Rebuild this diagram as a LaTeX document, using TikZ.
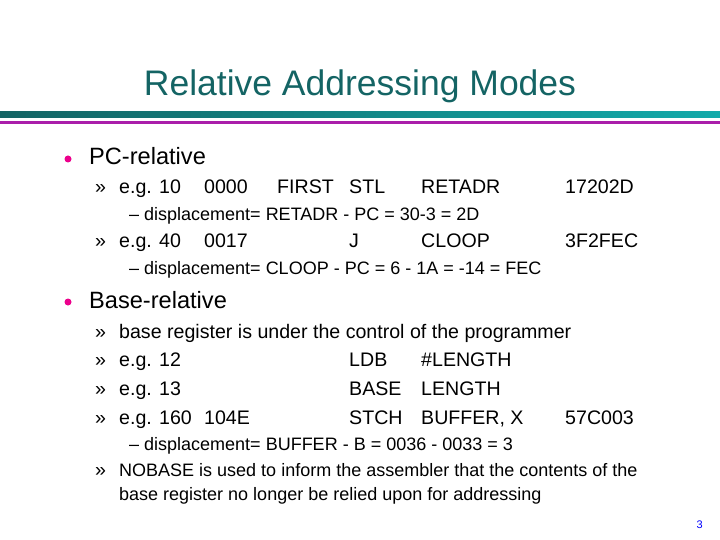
\documentclass[tikz,border=0pt]{standalone}
\usepackage{fontspec}
\setmainfont{Liberation Sans}
\begin{document}
\begin{tikzpicture}[x=1bp,y=-1bp,
  t/.style={anchor=base west,inner sep=0pt,font=\fontsize{19.6bp}{21bp}\selectfont},
  d/.style={anchor=base west,inner sep=0pt,font=\fontsize{18bp}{20bp}\selectfont},
  h/.style={anchor=base west,inner sep=0pt,font=\fontsize{23.6bp}{25bp}\selectfont}]
\useasboundingbox (0,0) rectangle (720,540);
\definecolor{teal1}{RGB}{20,100,100}
\definecolor{teal2}{RGB}{20,170,170}
\definecolor{mag}{RGB}{170,30,170}
\node[anchor=base,inner sep=0pt,text=teal1,font=\fontsize{35.5bp}{37bp}\selectfont] (title) at (360,96) {Relative Addressing Modes};
\shade[left color=teal1,right color=teal2] (0,112) rectangle (720,118);
\fill[mag] (0,121) rectangle (720,124);
\fill[magenta] (68,159) circle (3.5) node (b1) {};
\node[h] (pc) at (89,165) {PC-relative};
\node[t] (r1a) at (95,194) {»};
\node[t] (r1b) at (119,194) {e.g. 10};
\node[t] (r1c) at (204,194) {0000};
\node[t] (r1d) at (277,194) {FIRST};
\node[t] (r1e) at (349,194) {STL};
\node[t] (r1f) at (421,194) {RETADR};
\node[t] (r1g) at (565,194) {17202D};
\node[d] (d1) at (129,221) {– displacement= RETADR - PC = 30-3 = 2D};
\node[t] (r2a) at (95,248) {»};
\node[t] (r2b) at (119,248) {e.g. 40};
\node[t] (r2c) at (204,248) {0017};
\node[t] (r2e) at (349,248) {J};
\node[t] (r2f) at (421,248) {CLOOP};
\node[t] (r2g) at (565,248) {3F2FEC};
\node[d] (d2) at (129,275) {– displacement= CLOOP - PC = 6 - 1A = -14 = FEC};
\fill[magenta] (68,302) circle (3.5) node (b2) {};
\node[h] (br) at (89,308) {Base-relative};
\foreach \y/\n in {338/a,366/b,395/c,424/e,476/f} \node[t] (m\n) at (95,\y) {»};
\node[t] (s1) at (119,338) {base register is under the control of the programmer};
\node[t] (s2) at (119,366) {e.g. 12};
\node[t] (s2b) at (349,366) {LDB};
\node[t] (s2c) at (421,366) {\#LENGTH};
\node[t] (s3) at (119,395) {e.g. 13};
\node[t] (s3b) at (349,395) {BASE};
\node[t] (s3c) at (421,395) {LENGTH};
\node[t] (s4) at (119,424) {e.g. 160};
\node[t] (s4a) at (204,424) {104E};
\node[t] (s4b) at (349,424) {STCH};
\node[t] (s4c) at (421,424) {BUFFER, X};
\node[t] (s4d) at (565,424) {57C003};
\node[d] (d3) at (129,450) {– displacement= BUFFER - B = 0036 - 0033 = 3};
\node[d] (n1) at (119,476) {NOBASE is used to inform the assembler that the contents of the};
\node[d] (n2) at (119,500) {base register no longer be relied upon for addressing};
\node[anchor=base east,inner sep=0pt,text=blue,font=\fontsize{11bp}{12bp}\selectfont] (pg) at (703,528) {3};
\end{tikzpicture}
\end{document}
